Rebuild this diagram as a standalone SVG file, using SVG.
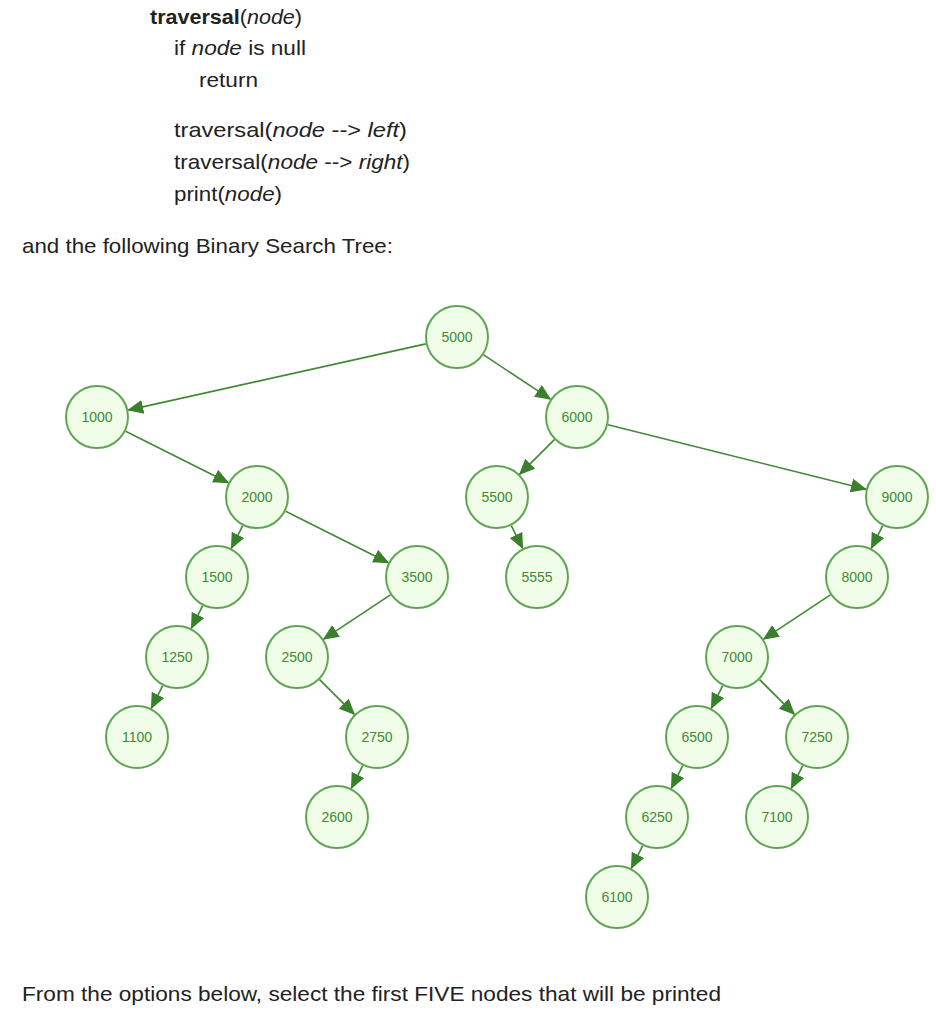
<svg xmlns="http://www.w3.org/2000/svg" width="936" height="1024" viewBox="0 0 936 1024">
<style>
.t{font-family:"Liberation Sans",Arial,sans-serif;font-size:21px;fill:#222}
.n circle{fill:#effde9;stroke:#5fa552;stroke-width:2}
.n text{font-family:"Liberation Sans",Arial,sans-serif;font-size:14px;fill:#3f8a32;text-anchor:middle}
#edges line{stroke:#3f8a32;stroke-width:1.6}
</style>
<defs><marker id="b" markerWidth="16" markerHeight="16" refX="15" refY="8" orient="auto" markerUnits="userSpaceOnUse" viewBox="0 0 16 16"><path d="M0,1L16,8L0,15z" fill="#3a7f2c"/></marker></defs>
<rect width="936" height="1024" fill="#fff"/>
<text class="t" x="150" y="24" textLength="152" lengthAdjust="spacingAndGlyphs"><tspan font-weight="bold">traversal</tspan>(<tspan font-style="italic">node</tspan>)</text>
<text class="t" x="174" y="55" textLength="132" lengthAdjust="spacingAndGlyphs">if <tspan font-style="italic">node</tspan> is null</text>
<text class="t" x="199" y="87" textLength="59" lengthAdjust="spacingAndGlyphs">return</text>
<text class="t" x="174" y="137" textLength="233" lengthAdjust="spacingAndGlyphs">traversal(<tspan font-style="italic">node</tspan> --&gt; <tspan font-style="italic">left</tspan>)</text>
<text class="t" x="174" y="169" textLength="236" lengthAdjust="spacingAndGlyphs">traversal(<tspan font-style="italic">node</tspan> --&gt; <tspan font-style="italic">right</tspan>)</text>
<text class="t" x="174" y="201" textLength="108" lengthAdjust="spacingAndGlyphs">print(<tspan font-style="italic">node</tspan>)</text>
<text class="t" x="22" y="253" textLength="371" lengthAdjust="spacingAndGlyphs">and the following Binary Search Tree:</text>
<text class="t" x="22" y="1001" textLength="699" lengthAdjust="spacingAndGlyphs">From the options below, select the first FIVE nodes that will be printed</text>
<g id="edges">
<line x1="425.8" y1="343.9" x2="128.2" y2="410.1" marker-end="url(#b)"/>
<line x1="483.6" y1="354.8" x2="550.4" y2="399.2" marker-end="url(#b)"/>
<line x1="125.6" y1="431.3" x2="228.4" y2="482.7" marker-end="url(#b)"/>
<line x1="554.4" y1="439.6" x2="519.6" y2="474.4" marker-end="url(#b)"/>
<line x1="608" y1="424.8" x2="866" y2="489.2" marker-end="url(#b)"/>
<line x1="242.7" y1="525.6" x2="231.3" y2="548.4" marker-end="url(#b)"/>
<line x1="285.6" y1="511.3" x2="388.4" y2="562.7" marker-end="url(#b)"/>
<line x1="511.3" y1="525.6" x2="522.7" y2="548.4" marker-end="url(#b)"/>
<line x1="882.7" y1="525.6" x2="871.3" y2="548.4" marker-end="url(#b)"/>
<line x1="202.7" y1="605.6" x2="191.3" y2="628.4" marker-end="url(#b)"/>
<line x1="390.4" y1="594.8" x2="323.6" y2="639.2" marker-end="url(#b)"/>
<line x1="830.4" y1="594.8" x2="763.6" y2="639.2" marker-end="url(#b)"/>
<line x1="162.7" y1="685.6" x2="151.3" y2="708.4" marker-end="url(#b)"/>
<line x1="319.6" y1="679.6" x2="354.4" y2="714.4" marker-end="url(#b)"/>
<line x1="722.7" y1="685.6" x2="711.3" y2="708.4" marker-end="url(#b)"/>
<line x1="759.6" y1="679.6" x2="794.4" y2="714.4" marker-end="url(#b)"/>
<line x1="362.7" y1="765.6" x2="351.3" y2="788.4" marker-end="url(#b)"/>
<line x1="682.7" y1="765.6" x2="671.3" y2="788.4" marker-end="url(#b)"/>
<line x1="802.7" y1="765.6" x2="791.3" y2="788.4" marker-end="url(#b)"/>
<line x1="642.7" y1="845.6" x2="631.3" y2="868.4" marker-end="url(#b)"/>
</g>
<g id="n5000" class="n"><circle cx="457" cy="337" r="31"/><text x="457" y="342">5000</text></g>
<g id="n1000" class="n"><circle cx="97" cy="417" r="31"/><text x="97" y="422">1000</text></g>
<g id="n6000" class="n"><circle cx="577" cy="417" r="31"/><text x="577" y="422">6000</text></g>
<g id="n2000" class="n"><circle cx="257" cy="497" r="31"/><text x="257" y="502">2000</text></g>
<g id="n5500" class="n"><circle cx="497" cy="497" r="31"/><text x="497" y="502">5500</text></g>
<g id="n9000" class="n"><circle cx="897" cy="497" r="31"/><text x="897" y="502">9000</text></g>
<g id="n1500" class="n"><circle cx="217" cy="577" r="31"/><text x="217" y="582">1500</text></g>
<g id="n3500" class="n"><circle cx="417" cy="577" r="31"/><text x="417" y="582">3500</text></g>
<g id="n5555" class="n"><circle cx="537" cy="577" r="31"/><text x="537" y="582">5555</text></g>
<g id="n8000" class="n"><circle cx="857" cy="577" r="31"/><text x="857" y="582">8000</text></g>
<g id="n1250" class="n"><circle cx="177" cy="657" r="31"/><text x="177" y="662">1250</text></g>
<g id="n2500" class="n"><circle cx="297" cy="657" r="31"/><text x="297" y="662">2500</text></g>
<g id="n7000" class="n"><circle cx="737" cy="657" r="31"/><text x="737" y="662">7000</text></g>
<g id="n1100" class="n"><circle cx="137" cy="737" r="31"/><text x="137" y="742">1100</text></g>
<g id="n2750" class="n"><circle cx="377" cy="737" r="31"/><text x="377" y="742">2750</text></g>
<g id="n6500" class="n"><circle cx="697" cy="737" r="31"/><text x="697" y="742">6500</text></g>
<g id="n7250" class="n"><circle cx="817" cy="737" r="31"/><text x="817" y="742">7250</text></g>
<g id="n2600" class="n"><circle cx="337" cy="817" r="31"/><text x="337" y="822">2600</text></g>
<g id="n6250" class="n"><circle cx="657" cy="817" r="31"/><text x="657" y="822">6250</text></g>
<g id="n7100" class="n"><circle cx="777" cy="817" r="31"/><text x="777" y="822">7100</text></g>
<g id="n6100" class="n"><circle cx="617" cy="897" r="31"/><text x="617" y="902">6100</text></g>
</svg>
